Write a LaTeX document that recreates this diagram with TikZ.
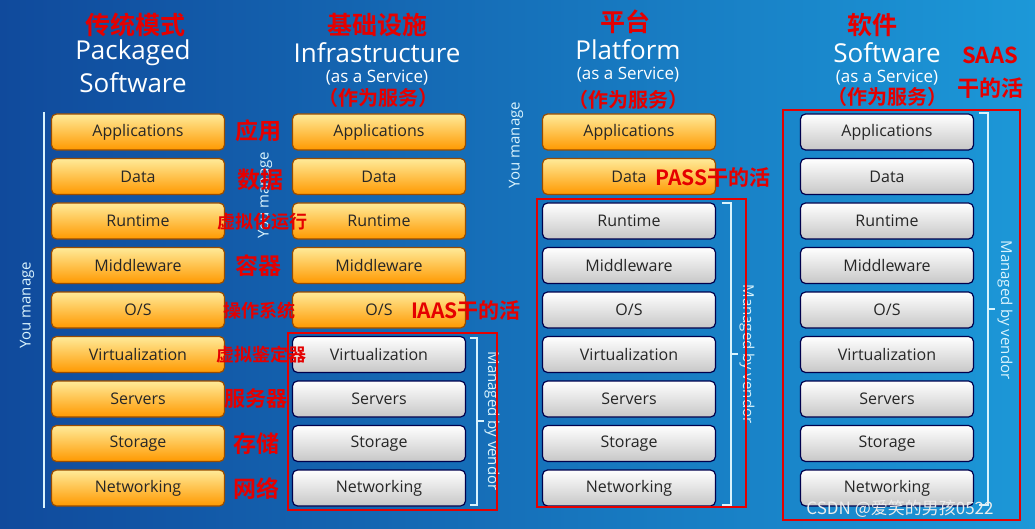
\documentclass[tikz,border=0pt]{standalone}
\usepackage{fontspec}
\setmainfont{Open Sans}
\newfontfamily\cjk{Noto Sans CJK SC}[BoldFont={Noto Sans CJK SC Bold}]
\definecolor{bgL}{HTML}{104A9C}
\definecolor{bgR}{HTML}{1C98D8}
\begin{document}
\begin{tikzpicture}[x=1pt,y=-1pt,
 box/.style={draw=black!70!blue,line width=1.2pt,rounded corners=5pt,minimum width=173pt,minimum height=36pt,font=\fontsize{16}{16}\selectfont,text=black!85},
 yb/.style={box,top color=yellow!60!orange!40!white,bottom color=orange!80!yellow,draw=orange!60!black},
 gb/.style={box,top color=white,bottom color=black!22},
 red/.style={text=red!90!black,font=\cjk\bfseries\fontsize{#1}{#1}\selectfont},
 hd/.style={text=white,font=\fontsize{#1}{#1}\selectfont},
 rb/.style={draw=red!90!black,line width=1.5pt},
 br/.style={draw=white!85!cyan,line width=1.5pt},
 vt/.style={text=white!85!cyan,font=\fontsize{15}{15}\selectfont}]
\useasboundingbox (0,0) rectangle (1035,529);
\shade[left color=bgL,right color=bgR] (0,0) rectangle (1035,529);
\def\names{Applications,Data,Runtime,Middleware,O/S,Virtualization,Servers,Storage,Networking}
\foreach \cx/\k/\c in {138/10/1,379/5/2,629/2/3,887/0/4}{
 \foreach \t [count=\i] in \names {
  \pgfmathsetmacro\yy{132+(\i-1)*44.5}
  \ifnum\i>\k \node[gb] (b\c-\i) at (\cx,\yy) {\t};
  \else \node[yb] (b\c-\i) at (\cx,\yy) {\t};\fi
 }}
% brackets
\coordinate (l1a) at (44,112); \coordinate (l1b) at (44,508);
\draw[br] (l1a) -- (l1b);
\node[vt,rotate=90] (ym1) at (27,305) {You manage};
\node[vt,rotate=90] (ym2) at (265,195) {You manage};
\node[vt,rotate=90] (ym3) at (516,145) {You manage};
\draw[br] (470,338) -- (477,338) -- (477,505) -- (470,505) (477,421) -- (484,421);
\node[vt,rotate=-90] (mv2) at (492,421) {Managed by vendor};
\draw[br] (722,203) -- (731,203) -- (731,505) -- (722,505) (731,354) -- (738,354);
\node[vt,rotate=-90] (mv3) at (747,354) {Managed by vendor};
\draw[br] (979,113) -- (988,113) -- (988,505) -- (979,505) (988,309) -- (995,309);
\node[vt,rotate=-90] (mv4) at (1005,310) {Managed by vendor};
% red boxes
\draw[rb] (288,333) rectangle (497,510);
\draw[rb] (537,199) rectangle (746,507);
\draw[rb] (783,110) rectangle (1020,520);
% headers
\node[red=25] (t1) at (135,25) {传统模式};
\node[red=25] (t2) at (377,25) {基础设施};
\node[red=25] (t3) at (625,22) {平台};
\node[red=25] (t4) at (872,25) {软件};
\node[red=22] (s1) at (990,55) {SAAS};
\node[red=22] (s2) at (990,88) {干的活};
\node[hd=26] (h1) at (133,53) {Packaged};
\node[hd=26] (h1b) at (133,83) {Software};
\node[hd=26] (h2) at (377,53) {Infrastructure};
\node[hd=17] (h2b) at (377,78) {(as a Service)};
\node[hd=26] (h3) at (628,50) {Platform};
\node[hd=17] (h3b) at (628,75) {(as a Service)};
\node[hd=26] (h4) at (887,53) {Software};
\node[hd=17] (h4b) at (887,78) {(as a Service)};
\node[red=20] (z2) at (378,98) {（作为服务）};
\node[red=20] (z3) at (628,100) {（作为服务）};
\node[red=20] (z4) at (887,97) {（作为服务）};
% side annotations
\node[red=23] (a1) at (258,131) {应用};
\node[red=23] (a2) at (260,180) {数据};
\node[red=18] (a3) at (262,222) {虚拟化运行};
\node[red=23] (a4) at (258,266) {容器};
\node[red=18] (a5) at (259,311) {操作系统};
\node[red=21] (a6) at (466,311) {IAAS干的活};
\node[red=18] (a7) at (261,355) {虚拟鉴定器};
\node[red=21] (a8) at (256,399) {服务器};
\node[red=23] (a9) at (256,444) {存储};
\node[red=23] (a10) at (256,489) {网络};
\node[red=21,anchor=west] (a11) at (652,178) {PASS干的活};
\node[text=white!85!gray,font=\cjk\fontsize{17}{17}\selectfont] (wm) at (900,509) {CSDN @爱笑的男孩0522};
\end{tikzpicture}
\end{document}
